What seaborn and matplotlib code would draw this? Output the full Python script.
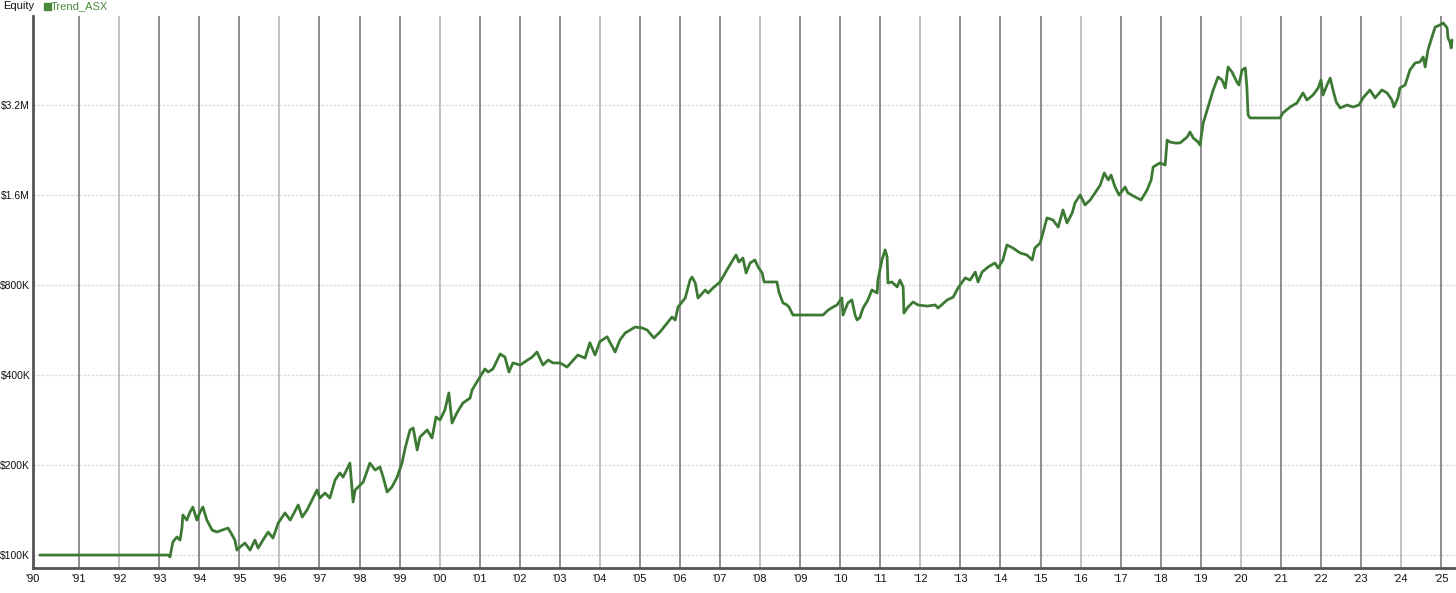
import matplotlib
matplotlib.use("Agg")
import matplotlib.pyplot as plt
import matplotlib.transforms as mtransforms
from matplotlib.patches import Rectangle
from matplotlib.ticker import FixedLocator, FixedFormatter, NullLocator
import pandas as pd
import seaborn as sns

# ── data (decimal year, equity in $K) ──
years = [
    1990.02, 1993.22, 1993.27, 1993.34, 1993.44, 1993.52, 1993.57, 1993.59, 1993.69, 1993.77,
    1993.84, 1993.94, 1994.02, 1994.09, 1994.19, 1994.32, 1994.44, 1994.57, 1994.72, 1994.82,
    1994.89, 1994.94, 1995.02, 1995.14, 1995.27, 1995.39, 1995.47, 1995.59, 1995.72, 1995.84,
    1995.97, 1996.14, 1996.27, 1996.47, 1996.57, 1996.69, 1996.94, 1997.01, 1997.14, 1997.26,
    1997.39, 1997.51, 1997.59, 1997.76, 1997.84, 1997.89, 1998.09, 1998.26, 1998.39, 1998.51,
    1998.59, 1998.69, 1998.81, 1998.94, 1999.06, 1999.14, 1999.26, 1999.34, 1999.44, 1999.51,
    1999.69, 1999.81, 1999.91, 2000.01, 2000.13, 2000.23, 2000.31, 2000.43, 2000.58, 2000.76,
    2000.81, 2000.96, 2001.13, 2001.21, 2001.33, 2001.51, 2001.63, 2001.73, 2001.83, 2002.01,
    2002.31, 2002.43, 2002.58, 2002.71, 2002.83, 2003.01, 2003.18, 2003.45, 2003.63, 2003.75,
    2003.88, 2004.00, 2004.18, 2004.38, 2004.50, 2004.63, 2004.88, 2005.05, 2005.18, 2005.35,
    2005.50, 2005.68, 2005.80, 2005.88, 2005.95, 2006.13, 2006.25, 2006.30, 2006.38, 2006.45,
    2006.63, 2006.70, 2006.82, 2007.00, 2007.17, 2007.32, 2007.40, 2007.47, 2007.57, 2007.65,
    2007.75, 2007.87, 2007.95, 2008.05, 2008.10, 2008.25, 2008.42, 2008.47, 2008.57, 2008.67,
    2008.72, 2008.82, 2009.57, 2009.70, 2009.82, 2009.92, 2010.04, 2010.07, 2010.19, 2010.29,
    2010.37, 2010.42, 2010.49, 2010.57, 2010.69, 2010.79, 2010.92, 2010.94, 2011.04, 2011.12,
    2011.17, 2011.19, 2011.29, 2011.42, 2011.49, 2011.57, 2011.59, 2011.69, 2011.82, 2011.94,
    2012.17, 2012.37, 2012.44, 2012.67, 2012.82, 2012.94, 2013.12, 2013.24, 2013.37, 2013.44,
    2013.54, 2013.69, 2013.86, 2013.94, 2014.06, 2014.16, 2014.31, 2014.49, 2014.66, 2014.79,
    2014.86, 2014.99, 2015.06, 2015.16, 2015.31, 2015.44, 2015.56, 2015.66, 2015.79, 2015.86,
    2015.99, 2016.11, 2016.24, 2016.36, 2016.49, 2016.59, 2016.69, 2016.76, 2016.86, 2016.96,
    2017.11, 2017.18, 2017.36, 2017.51, 2017.66, 2017.76, 2017.81, 2017.98, 2018.11, 2018.16,
    2018.23, 2018.36, 2018.48, 2018.66, 2018.73, 2018.81, 2018.93, 2018.98, 2019.06, 2019.18,
    2019.31, 2019.43, 2019.53, 2019.61, 2019.68, 2019.78, 2019.90, 2019.95, 2020.03, 2020.11,
    2020.15, 2020.18, 2020.23, 2020.98, 2021.05, 2021.23, 2021.40, 2021.55, 2021.65, 2021.80,
    2021.93, 2022.00, 2022.05, 2022.15, 2022.23, 2022.30, 2022.38, 2022.48, 2022.65, 2022.80,
    2022.95, 2023.05, 2023.22, 2023.35, 2023.52, 2023.65, 2023.77, 2023.82, 2023.92, 2023.97,
    2024.10, 2024.22, 2024.35, 2024.47, 2024.55, 2024.60, 2024.67, 2024.77, 2024.85, 2024.97,
    2025.05, 2025.15, 2025.17, 2025.22, 2025.25, 2025.27,
]
equity_k = [
    100, 100, 98.5, 110.5, 114.9, 112.2, 124.0, 136.1, 130.9, 139.3,
    144.7, 130.9, 139.3, 144.7, 130.9, 121.2, 119.4, 121.2, 123.1, 116.7,
    112.2, 103.9, 106.4, 109.7, 103.9, 112.2, 105.5, 112.2, 119.4, 113.9,
    127.9, 138.3, 130.9, 147.0, 134.0, 141.4, 165.0, 155.1, 161.2, 155.1,
    178.2, 188.1, 182.3, 203.0, 150.4, 165.0, 175.2, 203.0, 192.5, 197.0,
    182.3, 162.4, 168.9, 182.3, 203.0, 228.0, 261.9, 266.0, 224.5, 248.2,
    261.9, 246.2, 289.5, 282.8, 305.5, 348.3, 276.5, 298.5, 322.4, 335.0,
    356.4, 384.9, 419.0, 409.4, 419.0, 470.2, 459.5, 409.4, 439.0, 432.0,
    459.5, 477.5, 432.0, 448.9, 439.0, 439.0, 425.3, 466.6, 455.8, 513.0,
    466.6, 517.6, 537.0, 477.5, 523.7, 552.7, 578.8, 575.2, 565.6, 532.1,
    557.0, 597.0, 625.0, 610.9, 675.0, 723.6, 831.4, 850.5, 812.5, 723.6,
    769.6, 751.7, 781.5, 818.9, 898, 970, 1008, 955, 985, 878,
    948, 970, 919, 878, 819, 819, 819, 757, 697, 686,
    675, 635, 635, 660, 675, 686, 724, 635, 697, 713,
    635, 611, 623, 670, 713, 770, 752, 831, 970, 1048,
    994, 813, 819, 788, 831, 788, 645, 675, 702, 686,
    680, 686, 670, 713, 729, 782, 845, 831, 884, 819,
    884, 919, 948, 912, 970, 1089, 1064, 1024, 1008, 970,
    1064, 1105, 1195, 1341, 1320, 1250, 1426, 1290, 1394, 1506,
    1600, 1482, 1540, 1626, 1728, 1896, 1796, 1866, 1701, 1600,
    1701, 1626, 1576, 1540, 1663, 1796, 1985, 2048, 2016, 2444,
    2406, 2388, 2388, 2501, 2600, 2482, 2406, 2352, 2786, 3151,
    3592, 3970, 3879, 3648, 4288, 4123, 3819, 3733, 4190, 4256,
    3675, 2963, 2896, 2896, 3011, 3151, 3250, 3511, 3326, 3456,
    3648, 3879, 3456, 3733, 3935, 3592, 3275, 3126, 3200, 3151,
    3200, 3380, 3592, 3380, 3592, 3511, 3326, 3151, 3380, 3648,
    3733, 4190, 4422, 4457, 4630, 4288, 4887, 5403, 5831, 5925,
    6020, 5791, 5361, 5195, 4963, 5279,
]

tick_values = [100_000, 200_000, 400_000, 800_000, 1_600_000, 3_200_000]
tick_labels = ["$100K", "$200K", "$400K", "$800K", "$1.6M", "$3.2M"]
year_ticks = list(range(1990, 2026))

LINE_GREEN = "#3c7a34"

df = pd.DataFrame({"year": years, "equity": [v * 1000 for v in equity_k]})

sns.set_style("white")
plt.rcParams["font.family"] = ["Liberation Sans", "DejaVu Sans"]

fig = plt.figure(figsize=(14.56, 5.93), dpi=100)
ax = fig.add_axes([33 / 1456, 25 / 593, 1 - 33 / 1456, 1 - 25 / 593 - 16 / 593])

# vertical year lines: lighter grey on leap years
for yr in year_ticks[1:]:
    col = "#b0b0b0" if yr % 4 == 0 else "#707070"
    ax.axvline(yr, color=col, lw=1.1, zorder=1)

sns.lineplot(data=df, x="year", y="equity", ax=ax, color=LINE_GREEN,
             lw=2.0, estimator=None, sort=False, zorder=3)

ax.set_yscale("log")
ax.set_ylim(90_500, 6_350_000)
ax.set_xlim(1989.85, 2025.37)

ax.yaxis.set_major_locator(FixedLocator(tick_values))
ax.yaxis.set_major_formatter(FixedFormatter(tick_labels))
ax.yaxis.set_minor_locator(NullLocator())
ax.set_xticks(year_ticks)
ax.set_xticklabels([f"'{y % 100:02d}" for y in year_ticks])

ax.grid(axis="y", color="#dedede", lw=1.0, ls=(0, (2, 1)), zorder=0)
ax.tick_params(axis="both", length=0, labelsize=8, colors="#111111")
ax.tick_params(axis="y", labelsize=7.5, pad=2)
ax.tick_params(axis="x", pad=4)
ax.set_xlabel("")
ax.set_ylabel("")

# the '90 label sits a few pixels left of its year in the reference
first_lbl = ax.get_xticklabels()[0]
first_lbl.set_transform(first_lbl.get_transform()
                        + mtransforms.ScaledTranslation(-6 / 100, 0, fig.dpi_scale_trans))

for side in ["top", "right"]:
    ax.spines[side].set_visible(False)
ax.spines["left"].set_color("#555555")
ax.spines["left"].set_linewidth(2)
ax.spines["bottom"].set_color("#555555")
ax.spines["bottom"].set_linewidth(2)

# legend strip at the top left
fig.text(3 / 1456, 1 - 6 / 593, "Equity", fontsize=8, color="#111111", va="center", ha="left")
fig.patches.append(Rectangle((44 / 1456, 1 - 9.5 / 593), 6.5 / 1456, 6.5 / 593,
                             transform=fig.transFigure, color="#4a8a3c", figure=fig))
fig.text(51 / 1456, 1 - 6 / 593, "Trend_ASX", fontsize=8, color="#4a8a3c", va="center", ha="left")

fig.savefig("out.png", dpi=100)
plt.close(fig)
